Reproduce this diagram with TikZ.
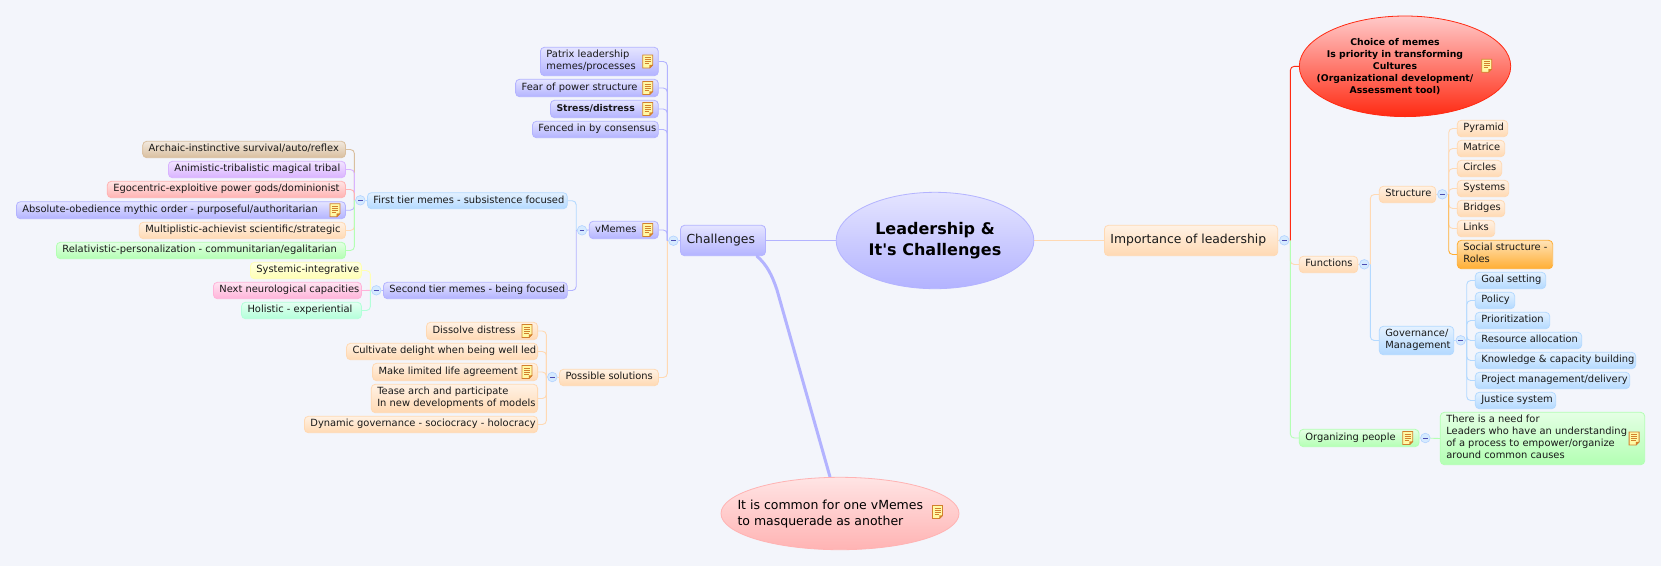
\documentclass[tikz,border=0pt]{standalone}
\usepackage{fontspec}
\setmainfont{DejaVu Sans}
\newfontfamily\titlefont{DejaVu Sans}
\usetikzlibrary{shapes.geometric,calc}
\definecolor{bgc}{HTML}{F3F5FB}
\definecolor{cLav}{HTML}{B3B3FF}
\definecolor{cOra}{HTML}{FFD9B3}
\definecolor{cBlu}{HTML}{B3D9FF}
\definecolor{cGre}{HTML}{B3FFB3}
\definecolor{cRed}{HTML}{FFB3B3}
\definecolor{cPur}{HTML}{D9B3FF}
\definecolor{cTan}{HTML}{D9BF9F}
\definecolor{cYel}{HTML}{FFFFB3}
\definecolor{cPin}{HTML}{FFB3D9}
\definecolor{cMin}{HTML}{B3FFD9}
\definecolor{cStr}{HTML}{FFAE33}
\definecolor{cHot}{HTML}{FF2A12}
\pgfdeclarelayer{bg}
\pgfsetlayers{bg,main}
\tikzset{
  mnode/.style={rectangle,rounded corners=4pt,line width=0.8pt,inner sep=0pt,
    font=\fontsize{9.9}{12}\selectfont,text=black!90},
  fLav/.style={draw=cLav,top color=cLav!35!white,bottom color=cLav},
  fOra/.style={draw=cOra,top color=cOra!35!white,bottom color=cOra},
  fBlu/.style={draw=cBlu,top color=cBlu!35!white,bottom color=cBlu},
  fGre/.style={draw=cGre,top color=cGre!35!white,bottom color=cGre},
  fRed/.style={draw=cRed,top color=cRed!35!white,bottom color=cRed},
  fPur/.style={draw=cPur,top color=cPur!35!white,bottom color=cPur},
  fTan/.style={draw=cTan,top color=cTan!35!white,bottom color=cTan},
  fYel/.style={draw=cYel,top color=cYel!35!white,bottom color=cYel},
  fPin/.style={draw=cPin,top color=cPin!35!white,bottom color=cPin},
  fMin/.style={draw=cMin,top color=cMin!35!white,bottom color=cMin},
  fStr/.style={draw=cStr,top color=cStr!35!white,bottom color=cStr},
  conn/.style={line width=0.9pt,rounded corners=4pt},
  ell/.style={ellipse,inner sep=0pt,line width=0.8pt},
  knob/.style={circle,minimum size=9.6pt,inner sep=0pt,draw=cBlu!85!cLav,fill=cBlu!55!white,line width=0.6pt,
    path picture={\draw[blue!40!gray,line width=0.6pt]
      ([xshift=-2.4pt]path picture bounding box.center) -- ([xshift=2.4pt]path picture bounding box.center);}},
  noteicon/.pic={
    \filldraw[fill=yellow!35!white,draw=brown!70!orange,line width=0.8pt]
      (-5,-6.5) -- (5,-6.5) -- (5,3.5) -- (2,6.5) -- (-5,6.5) -- cycle;
    \draw[brown!70!orange,line width=0.7pt] (-3,-4) -- (3,-4) (-3,-2) -- (3,-2) (-3,0) -- (3,0) (-3,2) -- (1.5,2);
    \filldraw[fill=brown!60!orange,draw=brown!70!orange,line width=0.4pt] (5,3.5) -- (2,3.5) -- (2,6.5) -- cycle;
  }
}
\newcommand\mn[7]{%
  \pgfmathsetmacro\mncx{(#2+#4)/2}\pgfmathsetmacro\mncy{(#3+#5)/2}%
  \pgfmathsetmacro\mnw{#4-#2}\pgfmathsetmacro\mnh{#5-#3}\pgfmathsetmacro\mntw{#4-#2-12}%
  \node[mnode,#6,minimum width=\mnw pt,minimum height=\mnh pt] (#1) at (\mncx,\mncy)
    {\raisebox{-0.17em}{\makebox[\mntw pt][l]{\begin{tabular}{@{}l@{}}#7\end{tabular}}}};}
\newcommand\ztext[3]{\raisebox{-0.28em}[0pt][0pt]{\makebox[0pt][c]{\hspace*{#1}\parbox{#2}{#3}}}}
\begin{document}
\begin{tikzpicture}[x=1pt,y=-1pt]
\useasboundingbox (0,0) rectangle (1661,566);
% --- nodes
\node[ell,fLav,minimum width=197.7pt,minimum height=96.4pt,font=\titlefont\bfseries\fontsize{16}{20.7}\selectfont] (title) at (935,240.5)
  {\ztext{0pt}{180pt}{\centering Leadership \&\\ It's Challenges}};
\mn{chal}{680.5}{225.3}{765.5}{255.7}{fLav,font=\fontsize{12.4}{16}\selectfont}{Challenges}
\mn{imp}{1104.4}{225.3}{1277.7}{255.7}{fOra,font=\fontsize{12.4}{16}\selectfont}{Importance of leadership}
\mn{pat}{540.4}{47.3}{658.3}{75.7}{fLav}{Patrix leadership\\memes/processes}
\mn{fear}{515.6}{79.3}{658.3}{96.7}{fLav}{Fear of power structure}
\mn{stress}{550.5}{100.3}{658.3}{117.7}{fLav}{\bfseries\fontsize{9.3}{12}\selectfont Stress/distress}
\mn{fenced}{532.4}{121.3}{658.3}{137.7}{fLav}{Fenced in by consensus}
\mn{vm}{589.2}{221.3}{658.3}{238.7}{fLav}{vMemes}
\mn{first}{367.4}{192.7}{567.3}{208.7}{fBlu}{First tier memes - subsistence focused}
\mn{second}{383.4}{282.3}{567.3}{298.7}{fLav}{Second tier memes - being focused}
\mn{arch}{142.7}{141.3}{345.5}{157.7}{fTan}{Archaic-instinctive survival/auto/reflex}
\mn{anim}{168.4}{161.3}{345.5}{177.7}{fPur}{Animistic-tribalistic magical tribal}
\mn{ego}{107.3}{181.3}{345.5}{197.7}{fRed}{Egocentric-exploitive power gods/dominionist}
\mn{abso}{16.4}{201.7}{345.5}{218.7}{fLav}{Absolute-obedience mythic order - purposeful/authoritarian}
\mn{multi}{139.3}{222.3}{345.5}{238.7}{fOra}{Multiplistic-achievist scientific/strategic}
\mn{rel}{56.4}{242.3}{345.5}{258.7}{fGre}{Relativistic-personalization - communitarian/egalitarian}
\mn{sys}{250.4}{262.3}{361.5}{278.7}{fYel}{Systemic-integrative}
\mn{next}{213.4}{282.3}{361.5}{298.7}{fPin}{Next neurological capacities}
\mn{hol}{241.5}{302.3}{361.5}{318.7}{fMin}{Holistic - experiential}
\mn{poss}{559.5}{369.3}{658.4}{385.7}{fOra}{Possible solutions}
\mn{diss}{426.5}{322.3}{537.6}{339.7}{fOra}{Dissolve distress}
\mn{cult}{346.5}{343.3}{537.6}{359.7}{fOra}{Cultivate delight when being well led}
\mn{make}{372.6}{363.3}{537.6}{380.7}{fOra}{Make limited life agreement}
\mn{tease}{371.3}{384.3}{537.6}{412.7}{fOra}{Tease arch and participate\\In new developments of models}
\mn{dyn}{304.4}{416.3}{537.6}{432.7}{fOra}{Dynamic governance - sociocracy - holocracy}
\node[ell,fRed,minimum width=238pt,minimum height=72.4pt,font=\fontsize{12.5}{16}\selectfont] (mask) at (840,513.5)
  {\ztext{0pt}{205pt}{\raggedright It is common for one vMemes\\ to masquerade as another}};
\node[ell,draw=cHot,top color=cRed!70!white,bottom color=cHot,minimum width=211.4pt,minimum height=100.6pt,font=\bfseries\fontsize{9.3}{12}\selectfont] (hot) at (1405,66.3)
  {\ztext{-20pt}{200pt}{\centering Choice of memes\\ Is priority in transforming\\ Cultures\\ (Organizational development/\\ Assessment tool)}};
\mn{func}{1299.3}{256.3}{1357.7}{272.7}{fOra}{Functions}
\mn{struct}{1379.3}{186.3}{1435.7}{202.7}{fOra}{Structure}
\mn{gov}{1379.3}{326.3}{1453.7}{354.7}{fBlu}{Governance/\\Management}
\mn{pyr}{1457.3}{120.3}{1507.7}{136.7}{fOra}{Pyramid}
\mn{mat}{1457.3}{140.3}{1504.7}{156.7}{fOra}{Matrice}
\mn{circ}{1457.3}{160.3}{1501.7}{176.7}{fOra}{Circles}
\mn{syst}{1457.3}{180.3}{1508.7}{196.7}{fOra}{Systems}
\mn{brid}{1457.3}{200.3}{1504.7}{216.7}{fOra}{Bridges}
\mn{link}{1457.3}{220.3}{1494.7}{236.7}{fOra}{Links}
\mn{soc}{1457.3}{240.3}{1552.7}{268.7}{fStr}{Social structure -\\Roles}
\mn{goal}{1475.3}{272.3}{1545.7}{288.7}{fBlu}{Goal setting}
\mn{pol}{1475.3}{292.3}{1514.7}{308.7}{fBlu}{Policy}
\mn{prio}{1475.3}{312.3}{1549.7}{328.7}{fBlu}{Prioritization}
\mn{reso}{1475.3}{332.3}{1581.7}{348.7}{fBlu}{Resource allocation}
\mn{know}{1475.3}{352.3}{1635.7}{368.7}{fBlu}{Knowledge \& capacity building}
\mn{proj}{1475.3}{372.3}{1629.7}{388.7}{fBlu}{Project management/delivery}
\mn{just}{1475.3}{392.3}{1555.7}{408.7}{fBlu}{Justice system}
\mn{org}{1299.3}{429.3}{1419}{446.7}{fGre}{Organizing people}
\mn{need}{1440.3}{412.3}{1644.7}{464.7}{fGre}{There is a need for\\Leaders who have an understanding\\of a process to empower/organize\\around common causes}
% --- knobs
\node[knob] (kChal) at (673.4,240.7) {};
\node[knob] (kVm) at (582,230.3) {};
\node[knob] (kFirst) at (360.3,200.3) {};
\node[knob] (kSecond) at (376.3,290.3) {};
\node[knob] (kPoss) at (552.3,377) {};
\node[knob] (kImp) at (1284.3,240.3) {};
\node[knob] (kFunc) at (1364.3,264.3) {};
\node[knob] (kStruct) at (1442.3,194.3) {};
\node[knob] (kGov) at (1460.7,340.3) {};
\node[knob] (kOrg) at (1425.3,438) {};
% --- note icons
\foreach \n in {pat,fear,stress,vm,abso,diss,make}{\pic at ([xshift=-11pt]\n.east) {noteicon};}
\pic at (1486.7,65.7) {noteicon};
\pic at (937.5,512) {noteicon};
\pic at ([xshift=-11.7pt]org.east) {noteicon};
\pic at ([xshift=-11pt]need.east) {noteicon};
% --- connectors
\begin{pgfonlayer}{bg}
\fill[bgc] (0,0) rectangle (1661,566);
\coordinate (tChal) at (667.3,240.7);
\coordinate (tVm) at (576.2,230.3);
\coordinate (tFirst) at (354.4,200.3);
\coordinate (tSecond) at (370.4,290.3);
\coordinate (tPoss) at (546.4,377);
\coordinate (tImp) at (1290.3,240.3);
\coordinate (tFunc) at (1370.3,264.3);
\coordinate (tStruct) at (1448.7,194.3);
\coordinate (tGov) at (1466.7,340.3);
\draw[conn,cLav,line width=1.2pt] (chal) -- (title);
\draw[conn,cOra,line width=1.2pt] (title) -- (imp);
\draw[cLav,line width=3pt,line cap=round] ([xshift=-9pt]chal.south east) .. controls (767,265) and (772,275) .. (777,290) -- ([xshift=-10pt]mask.north);
\draw[conn,cLav] (chal.west) -- (kChal);
\foreach \c in {pat,fear,stress,fenced,vm}{\draw[conn,cLav] (tChal) |- (\c.east);}
\draw[conn,cOra] (tChal) |- (poss.east);
\draw[conn,cLav] (kChal) -- (tChal);
\draw[conn,cLav] (vm.west) -- (kVm) -- (tVm);
\draw[conn,cBlu] (tVm) |- (first.east);
\draw[conn,cLav] (tVm) |- (second.east);
\draw[conn,cBlu] (first.west) -- (kFirst) -- (tFirst);
\draw[conn,cTan] (tFirst) |- (arch.east);
\draw[conn,cPur] (tFirst) |- (anim.east);
\draw[conn,cRed] (tFirst) |- (ego.east);
\draw[conn,cLav] (tFirst) |- (abso.east);
\draw[conn,cOra] (tFirst) |- (multi.east);
\draw[conn,cGre] (tFirst) |- (rel.east);
\draw[conn,cLav] (second.west) -- (kSecond);
\draw[conn,cPin] (kSecond) -- (next.east);
\draw[conn,cYel] (tSecond) |- (sys.east);
\draw[conn,cMin] (tSecond) |- (hol.east);
\draw[conn,cOra] (poss.west) -- (kPoss) -- (tPoss);
\foreach \c in {diss,cult,make,tease,dyn}{\draw[conn,cOra] (tPoss) |- (\c.east);}
\draw[conn,cOra] (imp.east) -- (kImp) -- (tImp);
\draw[conn,cOra] (tImp) |- (func.west);
\draw[conn,cGre] (tImp) |- (org.west);
\draw[conn,cHot] (tImp) |- (hot.west);
\draw[conn,cOra] (func.east) -- (kFunc) -- (tFunc);
\draw[conn,cOra] (tFunc) |- (struct.west);
\draw[conn,cBlu] (tFunc) |- (gov.west);
\draw[conn,cOra] (struct.east) -- (kStruct) -- (tStruct);
\foreach \c in {pyr,mat,circ,syst,brid,link}{\draw[conn,cOra] (tStruct) |- (\c.west);}
\draw[conn,cStr] (tStruct) |- (soc.west);
\draw[conn,cBlu] (gov.east) -- (kGov) -- (tGov);
\foreach \c in {goal,pol,prio,reso,know,proj,just}{\draw[conn,cBlu] (tGov) |- (\c.west);}
\draw[conn,cGre] (org.east) -- (kOrg) -- (need.west);
\end{pgfonlayer}
\end{tikzpicture}
\end{document}
